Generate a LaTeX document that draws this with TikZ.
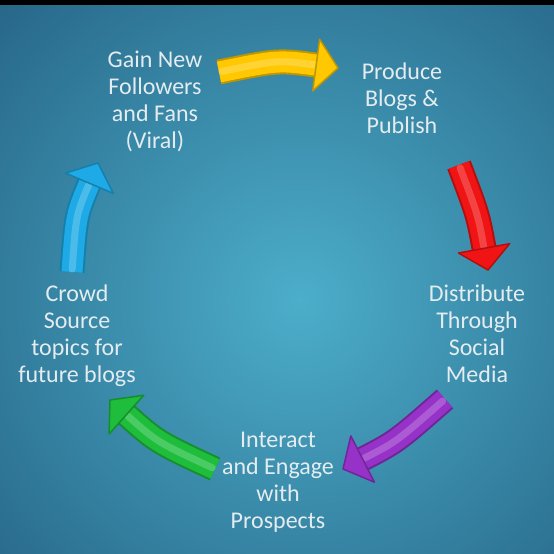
\documentclass[tikz,border=0pt]{standalone}
\usepackage{fontspec}
\setmainfont{Carlito}
\usetikzlibrary{calc}
\definecolor{bgin}{RGB}{76,174,202}
\definecolor{bgout}{RGB}{38,100,134}
\definecolor{txt}{RGB}{228,236,240}
\definecolor{cyyellow}{RGB}{255,200,0}
\definecolor{cyred}{RGB}{240,20,20}
\definecolor{cypurple}{RGB}{150,50,200}
\definecolor{cygreen}{RGB}{30,190,60}
\definecolor{cycyan}{RGB}{30,170,230}
\tikzset{
  label text/.style={text=txt, align=center, inner sep=0pt,
    font=\fontsize{24}{27}\selectfont},
}
\newcommand\cycarrow[4]{%
  \draw[line width=25pt, #4!75!black, shorten >=20pt] (#1) .. controls (#2) .. (#3);
  \draw[line width=21pt, #4, shorten >=20pt] (#1) .. controls (#2) .. (#3);
  \draw[line width=7pt, #4!55!white, opacity=0.45, shorten >=24pt, shorten <=3pt, line cap=round] (#1) .. controls (#2) .. (#3);
  \coordinate (hb) at ($(#3)!22pt!(#2)$);
  \filldraw[fill=#4, draw=#4!75!black, line width=1.5pt, line join=round]
    ($(hb)!26pt!90:(#3)$) -- (#3) -- ($(hb)!26pt!-90:(#3)$) -- cycle;
}
\begin{document}
\begin{tikzpicture}[x=1pt,y=-1pt]
\useasboundingbox (0,0) rectangle (554,554);
\begin{scope}
  \clip (0,0) rectangle (554,554);
  \shade[inner color=bgin, outer color=bgout] (300,300) circle (440);
  \fill[black] (0,0) rectangle (554,5);
\end{scope}
% arrow end points
\coordinate (ytail) at (219,72);  \coordinate (yc) at (278,60);  \coordinate (ytip) at (338,68);
\coordinate (rtail) at (459,165); \coordinate (rc) at (478,215); \coordinate (rtip) at (488,270);
\coordinate (ptail) at (445,399); \coordinate (pc) at (396,442); \coordinate (ptip) at (343,469);
\coordinate (gtail) at (215,469); \coordinate (gc) at (157,442); \coordinate (gtip) at (110,400);
\coordinate (ctail) at (72,272);  \coordinate (cc) at (76,215);  \coordinate (ctip) at (98,163);
\cycarrow{ytail}{yc}{ytip}{cyyellow}
\cycarrow{rtail}{rc}{rtip}{cyred}
\cycarrow{ptail}{pc}{ptip}{cypurple}
\cycarrow{gtail}{gc}{gtip}{cygreen}
\cycarrow{ctail}{cc}{ctip}{cycyan}
% labels
\node[label text] (gain) at (155,101.5) {Gain New\\Followers\\and Fans\\(Viral)};
\node[label text] (produce) at (402,98) {Produce\\Blogs \&\\Publish};
\node[label text] (distribute) at (477,333.5) {Distribute\\Through\\Social\\Media};
\node[label text] (interact) at (278,482.5) {Interact\\and Engage\\with\\Prospects};
\node[label text] (crowd) at (77,335.5) {Crowd\\Source\\topics for\\future blogs};
\end{tikzpicture}
\end{document}
